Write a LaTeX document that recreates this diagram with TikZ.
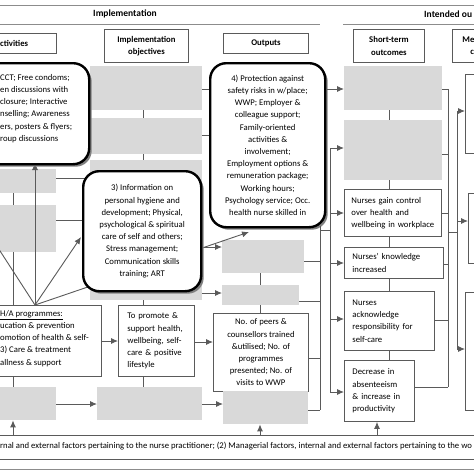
\documentclass[tikz,border=0pt]{standalone}
\usepackage{fontspec}
\setmainfont{Carlito}
\usetikzlibrary{arrows.meta,shadows}

\definecolor{boxgray}{RGB}{217,217,217}
\definecolor{linegray}{RGB}{90,90,90}
\definecolor{framegray}{RGB}{140,140,140}

\tikzset{
  every node/.style={font=\fontsize{8.7}{12.2}\selectfont},
  title/.style={font=\fontsize{9.5}{12}\selectfont\bfseries},
  box/.style={draw=linegray, line width=0.9pt, fill=white, inner sep=0pt, anchor=north west},
  greybox/.style={fill=boxgray, inner sep=0pt, anchor=north west},
  actbox/.style={draw=black, line width=2.4pt, rounded corners=16pt, fill=white, inner sep=0pt, anchor=north west,
    drop shadow={shadow xshift=2.5pt, shadow yshift=-2.5pt, fill=black!50, opacity=1}},
  conn/.style={draw=linegray, line width=0.9pt},
  arr/.style={conn, -{Latex[length=7pt,width=6pt]}},
  frame/.style={draw=framegray, line width=1pt}
}

\begin{document}
\begin{tikzpicture}[x=1pt,y=-1pt]
\useasboundingbox (0,0) rectangle (474,474);

% frame and section titles
\draw[frame] (0,5) -- (474,5);
\draw[frame] (0,469) -- (474,469);
\node[title] (impl) at (125,14) {Implementation};
\node[title, anchor=west, inner sep=0pt] (intended) at (424,14) {Intended ou};
\coordinate (implL) at (0,24);
\coordinate (implR) at (320,24);
\coordinate (intL) at (343,24);
\coordinate (intR) at (474,24);
\draw[frame] (implL) -- (implR);
\draw[frame] (intL) -- (intR);

% column headers
\node[box, minimum width=80, minimum height=20] (hAct) at (-24,33) {};
\node[anchor=west, inner sep=0pt] (hActtxt) at (0,43) {\textbf{ctivities}};
\node[box, minimum width=84, minimum height=33, align=center] (hObj) at (104,29) {\textbf{Implementation}\\\textbf{objectives}};
\node[box, minimum width=85, minimum height=20] (hOut) at (223,33) {\textbf{Outputs}};
\node[box, minimum width=71, minimum height=33, align=center] (hShort) at (353,29) {\textbf{Short-term}\\\textbf{outcomes}};
\node[box, minimum width=80, minimum height=33, align=left, text width=66, inner xsep=10pt] (hMed) at (452,29) {\textbf{Me}\\\hspace*{8pt}\textbf{c}};

% grey placeholders
\node[greybox, minimum width=96, minimum height=24] (lg1) at (-40,169) {};
\node[greybox, minimum width=96, minimum height=47] (lg2) at (-40,205) {};
\node[greybox, minimum width=96, minimum height=33] (lg3) at (-40,387) {};
\node[greybox, minimum width=112, minimum height=44] (mg1) at (90,66) {};
\node[greybox, minimum width=112, minimum height=36] (mg2) at (90,118) {};
\node[greybox, minimum width=112, minimum height=45] (mg3) at (90,160) {};
\node[greybox, minimum width=112, minimum height=85] (mg4) at (90,215) {};
\node[greybox, minimum width=105, minimum height=33] (mg5) at (97,387) {};
\node[greybox, minimum width=82, minimum height=33] (og1) at (222,240) {};
\node[greybox, minimum width=77, minimum height=20] (og2) at (222,285) {};
\node[greybox, minimum width=98, minimum height=44] (sg1) at (344,66) {};
\node[greybox, minimum width=98, minimum height=60] (sg2) at (344,120) {};

% connectors behind the boxes
\draw[conn] (13,193) -- (13,205);
\draw[conn] (13,252) -- (13,305);
\draw[conn] (13,376) -- (13,387);
\draw[conn] (56,178) -- (90,178);
\draw[conn] (56,220) -- (90,220);
\draw[conn] (143,110) -- (143,118);
\draw[conn] (143,154) -- (143,160);
\draw[conn] (143,205) -- (143,215);
\draw[conn] (143,300) -- (143,305);
\draw[conn] (143,376) -- (143,387);
\draw[conn] (202,89) -- (210,89);
\draw[conn] (202,135) -- (210,135);
\draw[arr] (202,247) -- (222,247);
\draw[arr] (202,293) -- (222,293);
\draw[conn] (260,273) -- (260,285);
\draw[conn] (260,305) -- (260,313);
\coordinate (hub) at (35,305);
\draw[conn] (hub) -- (-20,220);
\draw[arr] (hub) -- (35,163);
\draw[arr] (hub) -- (81,237);
\draw[arr] (hub) -- (249,232);

% activity boxes
\node[actbox, minimum width=148, minimum height=101] (act1) at (-60,62) {};
\node[anchor=north west, inner sep=0pt, align=left] (act1txt) at (0,74) {CCT; Free condoms;\\en discussions with\\closure; Interactive\\nselling; Awareness\\ers, posters \& flyers;\\roup discussions};
\node[actbox, minimum width=118, minimum height=120, align=center] (act3) at (82,170) {3) Information on\\personal hygiene and\\development; Physical,\\psychological \& spiritual\\care of self and others;\\Stress management;\\Communication skills\\training; ART};
\node[actbox, minimum width=115, minimum height=164, align=center] (act4) at (209,62) {4) Protection against\\safety risks in w/place;\\WWP; Employer \&\\colleague support;\\Family-oriented\\activities \&\\involvement;\\Employment options \&\\remuneration package;\\Working hours;\\Psychology service; Occ.\\health nurse skilled in};

% programme, objective and output boxes
\node[box, minimum width=161, minimum height=71] (prog) at (-60,305) {};
\node[anchor=north west, inner sep=0pt, align=left] (progtxt) at (0,310) {\underline{H/A programmes:}\\ucation \& prevention\\omotion of health \& self-\\3) Care \& treatment\\allness \& support};
\node[box, minimum height=71, text width=58, align=left, inner xsep=9pt] (obj) at (118,305) {To promote \&\\support health,\\wellbeing, self-\\care \& positive\\lifestyle};
\node[box, minimum width=95, minimum height=78, align=center] (outp) at (213,313) {No. of peers \&\\counsellors trained\\\&utilised; No. of\\programmes\\presented; No. of\\visits to WWP};
\node[greybox, minimum width=85, minimum height=33] (og3) at (223,391) {};

% short-term outcomes
\node[box, minimum height=47, text width=83, align=left, inner xsep=7pt] (st1) at (344,189) {Nurses gain control\\over health and\\wellbeing in workplace};
\node[box, minimum height=31, text width=83, align=left, inner xsep=8pt] (st2) at (344,247) {Nurses' knowledge\\increased};
\node[box, minimum height=59, text width=74, align=left, inner xsep=8pt] (st3) at (344,291) {Nurses\\acknowledge\\responsibility for\\self-care};
\node[box, minimum height=61, text width=54, align=left, inner xsep=8pt] (st4) at (344,360) {Decrease in\\absenteeism\\\& increase in\\productivity};

% medium-term outcomes
\node[box, minimum width=40, minimum height=79] (md1) at (465,74) {};
\node[box, minimum width=40, minimum height=70] (md2) at (468,193) {};
\node[box, minimum width=40, minimum height=118] (md3) at (465,292) {};

% influencing factors
\node[box, minimum width=560, minimum height=24] (factors) at (-40,435) {};
\node[anchor=west, inner sep=0pt] (factxt) at (0,446) {rnal and external factors pertaining to the nurse practitioner; (2) Managerial factors, internal and external factors pertaining to the wo};

% lower row flows
\draw[arr] (prog.east |- 0,341) -- (obj.west |- 0,341);
\draw[arr] (obj.east |- 0,342) -- (outp.west |- 0,342);
\draw[arr] (lg3.east |- 0,404) -- (mg5.west |- 0,404);
\draw[arr] (mg5.east |- 0,404) -- (og3.west |- 0,404);
\draw[arr] (13,435) -- (lg3.south -| 13,0);
\draw[arr] (260,435) -- (og3.south -| 260,0);
\draw[arr] (377,435) -- (st4.south -| 377,0);

% output bus to short-term outcomes
\draw[conn] (og1.east |- 0,261) -- (320,261);
\draw[conn] (og2.east |- 0,301) -- (320,301);
\draw[conn] (outp.east |- 0,358) -- (320,358);
\draw[conn] (og3.east |- 0,410) -- (320,410);
\draw[conn] (320,226) -- (320,410);
\draw[conn] (320,230) -- (330,230);
\draw[conn] (330,148) -- (330,392);
\draw[arr] (act4.east |- 0,89) -- (sg1.west |- 0,89);
\draw[arr] (330,148) -- (sg2.west |- 0,148);
\draw[arr] (330,213) -- (st1.west |- 0,213);
\draw[arr] (330,263) -- (st2.west |- 0,263);
\draw[arr] (330,319) -- (st3.west |- 0,319);
\draw[arr] (330,392) -- (st4.west |- 0,392);

% short-term chain
\draw[conn] (389,110) -- (389,120);
\draw[conn] (389,180) -- (389,189);
\draw[conn] (389,236) -- (389,247);
\draw[conn] (389,278) -- (389,291);
\draw[conn] (389,350) -- (389,360);

% short-term bus to medium-term outcomes
\draw[conn] (sg1.east |- 0,89) -- (448,89);
\draw[conn] (sg2.east |- 0,154) -- (448,154);
\draw[conn] (st1.east |- 0,213) -- (448,213);
\draw[conn] (st2.east |- 0,264) -- (448,264);
\draw[conn] (st3.east |- 0,320) -- (448,320);
\draw[conn] (st4.east |- 0,387) -- (448,387);
\draw[conn] (448,89) -- (448,387);
\draw[conn] (448,232) -- (457,232);
\draw[conn] (457,111) -- (457,349);
\draw[arr] (457,111) -- (md1.west |- 0,111);
\draw[arr] (457,221) -- (md2.west |- 0,221);
\draw[arr] (457,349) -- (md3.west |- 0,349);
\end{tikzpicture}
\end{document}
